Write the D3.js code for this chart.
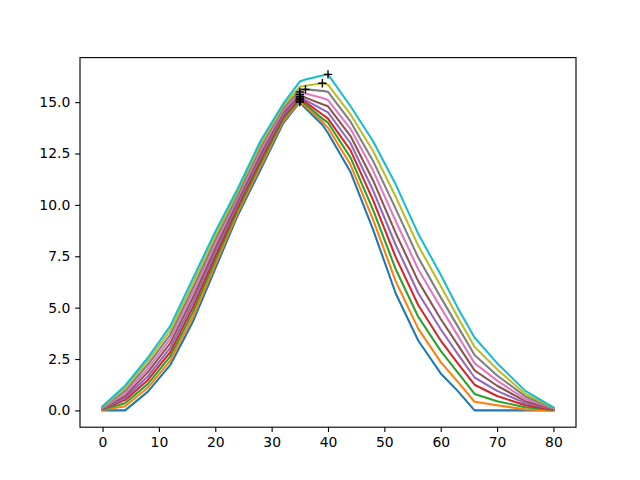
<!DOCTYPE html>
<html>
<head>
<meta charset="utf-8">
<script src="https://cdn.jsdelivr.net/npm/d3@7"></script>
<style>
    body { margin: 0; background: #fff; }
    svg { display: block; font-family: 'DejaVu Sans', sans-serif; }
</style>
</head>
<body>
<div class="Canvas"></div>
<script>
// x positions shared by every line
const xs = [0, 4, 8, 12, 16, 20, 24, 28, 32, 35, 36, 39, 40, 44, 48, 52, 56, 60, 63, 66, 70, 75, 80];

// one array per line
const s0 = [0, 0, 0.9, 2.2, 4.3, 6.9, 9.5, 11.7, 13.95, 15.0, 14.7, 13.9, 13.5, 11.6, 8.8, 5.7, 3.4, 1.8, 0.95, 0, 0, 0, 0];
const s1 = [0.02, 0.2, 1.1, 2.41, 4.53, 7.1, 9.64, 11.86, 14.06, 15.05, 14.8, 14.05, 13.75, 11.95, 9.28, 6.29, 3.98, 2.35, 1.4, 0.42, 0.25, 0.05, 0];
const s2 = [0.04, 0.35, 1.28, 2.62, 4.77, 7.3, 9.79, 12.01, 14.16, 15.12, 14.9, 14.2, 14.0, 12.3, 9.76, 6.88, 4.56, 2.9, 1.85, 0.8, 0.45, 0.15, 0.02];
const s3 = [0.07, 0.5, 1.47, 2.83, 5.0, 7.5, 9.93, 12.17, 14.27, 15.2, 15.0, 14.4, 14.2, 12.65, 10.23, 7.47, 5.13, 3.4, 2.3, 1.25, 0.7, 0.25, 0.03];
const s4 = [0.09, 0.6, 1.65, 3.04, 5.23, 7.7, 10.08, 12.32, 14.37, 15.28, 15.1, 14.65, 14.5, 13.0, 10.71, 8.06, 5.71, 3.95, 2.75, 1.6, 0.95, 0.35, 0.05];
const s5 = [0.11, 0.7, 1.85, 3.26, 5.47, 7.9, 10.22, 12.48, 14.48, 15.38, 15.22, 14.9, 14.8, 13.35, 11.19, 8.64, 6.29, 4.45, 3.2, 1.95, 1.2, 0.45, 0.07];
const s6 = [0.13, 0.82, 2.03, 3.47, 5.7, 8.1, 10.37, 12.63, 14.58, 15.5, 15.42, 15.2, 15.1, 13.7, 11.67, 9.23, 6.87, 5.0, 3.65, 2.3, 1.45, 0.55, 0.09];
const s7 = [0.16, 0.95, 2.22, 3.68, 5.93, 8.3, 10.51, 12.79, 14.69, 15.6, 15.62, 15.55, 15.5, 14.05, 12.14, 9.82, 7.44, 5.5, 4.1, 2.7, 1.7, 0.68, 0.11];
const s8 = [0.18, 1.07, 2.4, 3.89, 6.17, 8.5, 10.66, 12.94, 14.79, 15.75, 15.8, 15.92, 15.85, 14.4, 12.62, 10.41, 8.02, 6.05, 4.55, 3.1, 2.0, 0.8, 0.13];
const s9 = [0.2, 1.2, 2.55, 4.1, 6.4, 8.7, 10.8, 13.1, 14.9, 16.0, 16.1, 16.3, 16.35, 14.8, 13.1, 11.0, 8.6, 6.6, 5.0, 3.55, 2.3, 0.95, 0.15];
const allSeries = [s0, s1, s2, s3, s4, s5, s6, s7, s8, s9];

const xTicks = [0, 10, 20, 30, 40, 50, 60, 70, 80];
const yTicks = [0, 2.5, 5, 7.5, 10, 12.5, 15];
const colors = ['#1f77b4', '#ff7f0e', '#2ca02c', '#d62728', '#9467bd', '#8c564b', '#e377c2', '#7f7f7f', '#bcbd22', '#17becf'];

const width = 640;
const height = 480;
const plotLeft = 80, plotRight = 576, plotTop = 57.6, plotBottom = 427.2;
const lineWidth = 2.08;

let svg = d3.select('.Canvas').append('svg').attr('width', width).attr('height', height);

// matplotlib style 5% margins around the data
const xMin = d3.min(xs), xMax = d3.max(xs);
const yMin = d3.min(allSeries, (s) => d3.min(s));
const yMax = d3.max(allSeries, (s) => d3.max(s));
const xPad = (xMax - xMin) * 0.05;
const yPad = (yMax - yMin) * 0.05;

let x = d3.scaleLinear().domain([xMin - xPad, xMax + xPad]).range([plotLeft, plotRight]);
let y = d3.scaleLinear().domain([yMin - yPad, yMax + yPad]).range([plotBottom, plotTop]);

let line = d3
    .line()
    .x((d, i) => x(xs[i]))
    .y((d) => y(d));

let plot = svg.append('g');
plot
    .selectAll('path.series')
    .data(allSeries)
    .enter()
    .append('path')
    .attr('class', 'series')
    .attr('d', (d) => line(d))
    .attr('fill', 'none')
    .attr('stroke', (d, i) => colors[i])
    .attr('stroke-width', lineWidth)
    .attr('stroke-linejoin', 'round')
    .attr('stroke-linecap', 'square');

// black plus at the top of each line
const half = 4.2;
let marks = plot
    .selectAll('g.peak')
    .data(allSeries)
    .enter()
    .append('g')
    .attr('class', 'peak')
    .attr('transform', (d) => {
        let k = d3.maxIndex(d);
        return `translate(${x(xs[k])},${y(d[k])})`;
    });
marks
    .append('path')
    .attr('d', `M${-half},0H${half}M0,${-half}V${half}`)
    .attr('stroke', 'black')
    .attr('stroke-width', 1.39);

// axes
let xAxis = d3.axisBottom(x).tickValues(xTicks).tickSize(4.86).tickPadding(4.9).tickFormat(d3.format('d'));
let yAxis = d3.axisLeft(y).tickValues(yTicks).tickSize(4.86).tickPadding(4.9).tickFormat(d3.format('.1f'));

let gx = svg.append('g').attr('transform', `translate(0,${plotBottom})`).call(xAxis);
let gy = svg.append('g').attr('transform', `translate(${plotLeft},0)`).call(yAxis);
[gx, gy].forEach((g) => {
    g.select('.domain').remove();
    g.selectAll('line').attr('stroke', 'black').attr('stroke-width', 1.11);
    g.selectAll('text').attr('font-size', '13.9px').attr('fill', 'black').attr('font-family', 'DejaVu Sans');
});

// frame
svg.append('rect')
    .attr('x', plotLeft)
    .attr('y', plotTop)
    .attr('width', plotRight - plotLeft)
    .attr('height', plotBottom - plotTop)
    .attr('fill', 'none')
    .attr('stroke', 'black')
    .attr('stroke-width', 1.11);
</script>
</body>
</html>
